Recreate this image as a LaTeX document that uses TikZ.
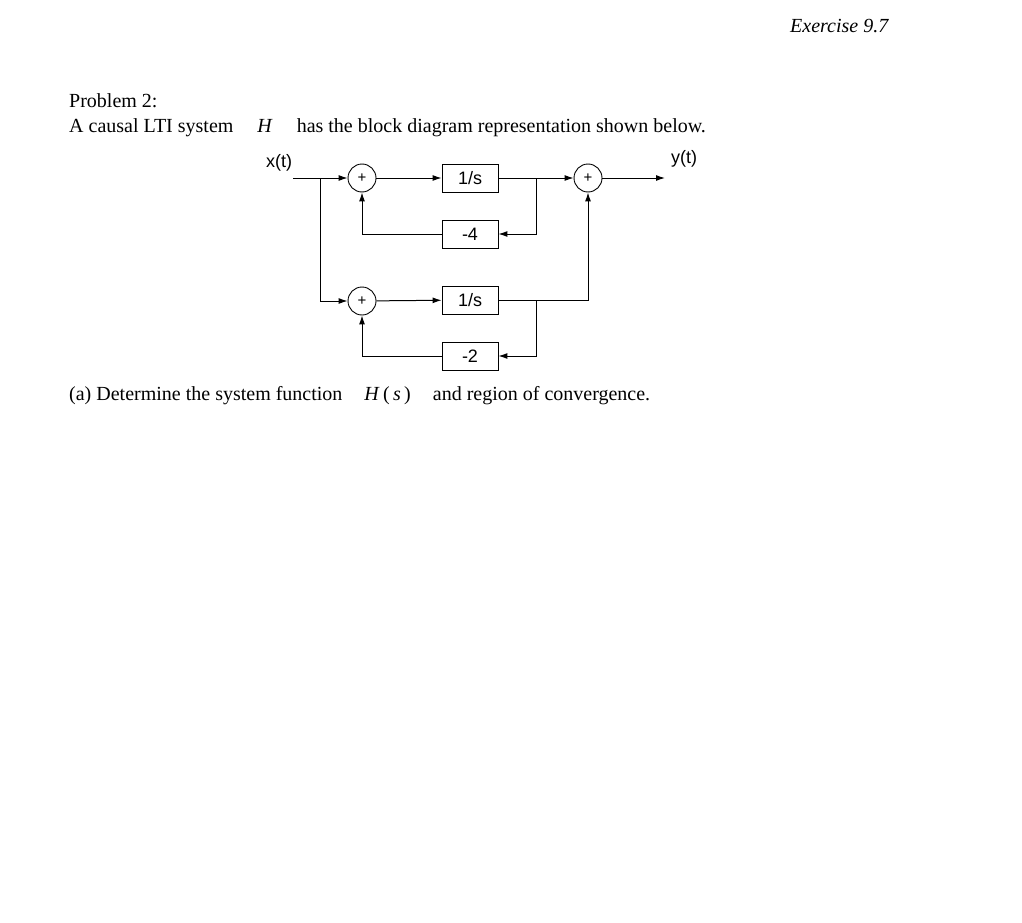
\documentclass[tikz,border=0pt]{standalone}
\usepackage{fontspec}
\setmainfont{Liberation Serif}
\newfontfamily\dsans{Liberation Sans}
\usetikzlibrary{arrows.meta}
\begin{document}
\begin{tikzpicture}[x=1pt,y=-1pt,
  blk/.style={draw,line width=0.9pt,minimum width=56pt,minimum height=28pt,inner sep=0pt,font=\dsans\fontsize{18}{18}\selectfont},
  sumn/.style={draw,circle,line width=0.9pt,minimum size=28pt,inner sep=0pt,font=\dsans\fontsize{15}{15}\selectfont},
  ar/.style={line width=1pt,-{Latex[length=9pt,width=6pt]}},
  txt/.style={anchor=base west,inner sep=0pt,font=\fontsize{20}{20}\selectfont}]
\useasboundingbox (0,0) rectangle (1022,923);
\node[txt] (ex) at (790,33) {\itshape Exercise 9.7};
\node[txt] (p2) at (69,108) {Problem 2:};
\node[txt] (l2) at (69,132) {A causal LTI system\hspace{24pt}\textit{H}\hspace{24pt}has the block diagram representation shown below.};
\node[txt] (la) at (69,400) {(a) Determine the system function\hspace{22pt}\textit{H}\,(\,\textit{s}\,)\hspace{22pt}and region of convergence.};
\node[anchor=base,inner sep=0pt,font=\dsans\fontsize{18}{18}\selectfont] (xl) at (279,167) {x(t)};
\node[anchor=base,inner sep=0pt,font=\dsans\fontsize{18}{18}\selectfont] (yl) at (684,164) {y(t)};
\node[sumn] (s1) at (362,178) {+};
\node[sumn] (s2) at (362,301) {+};
\node[sumn] (s3) at (588,178) {+};
\node[blk] (i1) at (470,178) {1/s};
\node[blk] (g1) at (470,234) {-4};
\node[blk] (i2) at (470,300) {1/s};
\node[blk] (g2) at (470,356) {-2};
\coordinate (in) at (293,178);
\coordinate (sp) at (320,178);
\coordinate (out) at (665,178);
\coordinate (b1) at (536,178);
\coordinate (b2) at (536,300);
\draw[ar] (in) -- (s1);
\draw[ar] (sp) |- (s2);
\draw[ar] (s1) -- (i1);
\draw[ar] (i1) -- (s3);
\draw[ar] (s3) -- (out);
\draw[ar] (b1) |- (g1);
\draw[ar] (g1) -| (s1);
\draw[ar] (s2) -- (i2);
\draw[ar] (i2) -| (s3);
\draw[ar] (b2) |- (g2);
\draw[ar] (g2) -| (s2);
\end{tikzpicture}
\end{document}
